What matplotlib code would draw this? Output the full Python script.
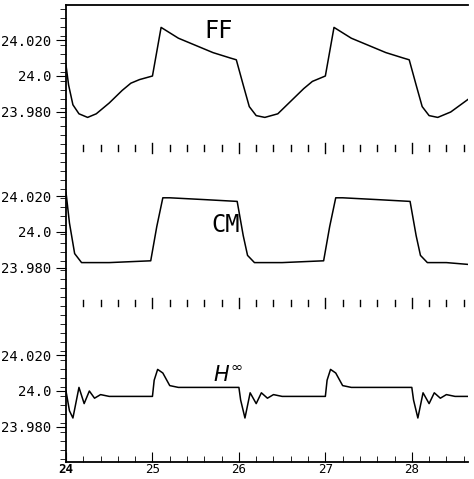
import numpy as np
import matplotlib.pyplot as plt

# time axis and the three traces (value in units)
ff_t = [24.0, 24.03, 24.08, 24.15, 24.25, 24.35, 24.5, 24.65, 24.75, 24.85, 25.0, 25.1, 25.3, 25.5, 25.7, 25.9, 25.97,
        26.05, 26.12, 26.2, 26.3, 26.45, 26.6, 26.75, 26.85, 27.0, 27.1, 27.3, 27.5, 27.7, 27.9, 27.97,
        28.05, 28.12, 28.2, 28.3, 28.45, 28.65]
ff_v = [24.006, 23.995, 23.984, 23.979, 23.977, 23.979, 23.985, 23.992, 23.996, 23.998, 24.0, 24.027, 24.021, 24.017, 24.013, 24.010, 24.009,
        23.995, 23.983, 23.978, 23.977, 23.979, 23.986, 23.993, 23.997, 24.0, 24.027, 24.021, 24.017, 24.013, 24.010, 24.009,
        23.995, 23.983, 23.978, 23.977, 23.980, 23.987]

cm_t = [24.0, 24.04, 24.1, 24.18, 24.5, 24.98, 25.05, 25.12, 25.2, 25.6, 25.98, 26.05, 26.1, 26.18, 26.5, 26.98,
        27.05, 27.12, 27.2, 27.6, 27.98, 28.05, 28.1, 28.18, 28.4, 28.65]
cm_v = [24.022, 24.005, 23.988, 23.983, 23.983, 23.984, 24.003, 24.019, 24.019, 24.018, 24.017, 23.998, 23.987, 23.983, 23.983, 23.984,
        24.003, 24.019, 24.019, 24.018, 24.017, 23.998, 23.987, 23.983, 23.983, 23.982]

hi_t = [24.0, 24.04, 24.08, 24.15, 24.21, 24.27, 24.33, 24.4, 24.5, 24.7, 25.0, 25.02, 25.06, 25.12, 25.2, 25.3, 25.5, 26.0,
        26.02, 26.07, 26.13, 26.2, 26.26, 26.33, 26.4, 26.5, 26.7, 27.0, 27.02, 27.06, 27.12, 27.2, 27.3, 27.5, 28.0,
        28.02, 28.07, 28.13, 28.2, 28.26, 28.33, 28.4, 28.5, 28.65]
hi_v = [24.0, 23.989, 23.985, 24.002, 23.993, 24.0, 23.996, 23.998, 23.997, 23.997, 23.997, 24.006, 24.012, 24.010, 24.003, 24.002, 24.002, 24.002,
        23.995, 23.985, 23.999, 23.993, 23.999, 23.996, 23.998, 23.997, 23.997, 23.997, 24.006, 24.012, 24.010, 24.003, 24.002, 24.002, 24.002,
        23.995, 23.985, 23.999, 23.993, 23.999, 23.996, 23.998, 23.997, 23.997]

panel_center = [76, 232, 391]      # pixel row of 24.0 in each panel
tick_vals = [24.02, 24.0, 23.98]
tick_text = ['24.020', '24.0', '23.980']
sep_rows = [148, 303]
px_per_unit = 1800.0

fig = plt.figure(figsize=(4.74, 4.79), dpi=100)
ax = fig.add_axes([66/474, 17/479, 402/474, 457/479])


def to_y(v, c):
    return -(c - (np.asarray(v) - 24.0) * px_per_unit)


for (t, v), c in zip([(ff_t, ff_v), (cm_t, cm_v), (hi_t, hi_v)], panel_center):
    ax.plot(t, to_y(v, c), color='black', lw=1.1)

ax.text(25.6, to_y(24.021, 76), 'FF', fontsize=17, color='black', family='DejaVu Sans Mono')
ax.text(25.68, to_y(24.0, 232), 'CM', fontsize=17, color='black', family='DejaVu Sans Mono')
ax.text(25.7, to_y(24.005, 391), r'$H^{\infty}$', fontsize=15, color='black')

# tick rows between panels
minor_x = np.round(np.arange(24.2, 28.61, 0.2), 1)
for r in sep_rows:
    for x in minor_x:
        h = 5 if abs(x - round(x)) < 1e-6 else 3
        ax.plot([x, x], [-r - h, -r + h], color='black', lw=1.0)

yt, yl = [], []
for c in panel_center:
    for v, s in zip(tick_vals, tick_text):
        yt.append(float(to_y(v, c)))
        yl.append(s)
ax.set_yticks(yt)
ax.set_yticklabels(yl, family='DejaVu Sans Mono', fontsize=10)
ax.set_yticks(-np.arange(9, 462, 9), minor=True)
ax.set_xticks([24, 25, 26, 27, 28])
ax.set_xticklabels(['24', '25', '26', '27', '28'], family='DejaVu Sans Mono', fontsize=9)
ax.set_xticks(minor_x, minor=True)
ax.tick_params(axis='y', which='major', direction='out', length=7, color='black', labelcolor='black')
ax.tick_params(axis='y', which='minor', direction='out', length=4, color='black')
ax.tick_params(axis='x', which='major', direction='in', length=7, pad=1, color='black')
ax.tick_params(axis='x', which='minor', direction='in', length=4, color='black')
ax.xaxis.get_majorticklabels()[0].set_fontweight('bold')

ax.set_xlim(24, 28.65)
ax.set_ylim(-462, -5)
ax.spines['right'].set_visible(False)
for s in ['left', 'bottom', 'top']:
    ax.spines[s].set_linewidth(1.3)

fig.savefig('out.png', dpi=100)
